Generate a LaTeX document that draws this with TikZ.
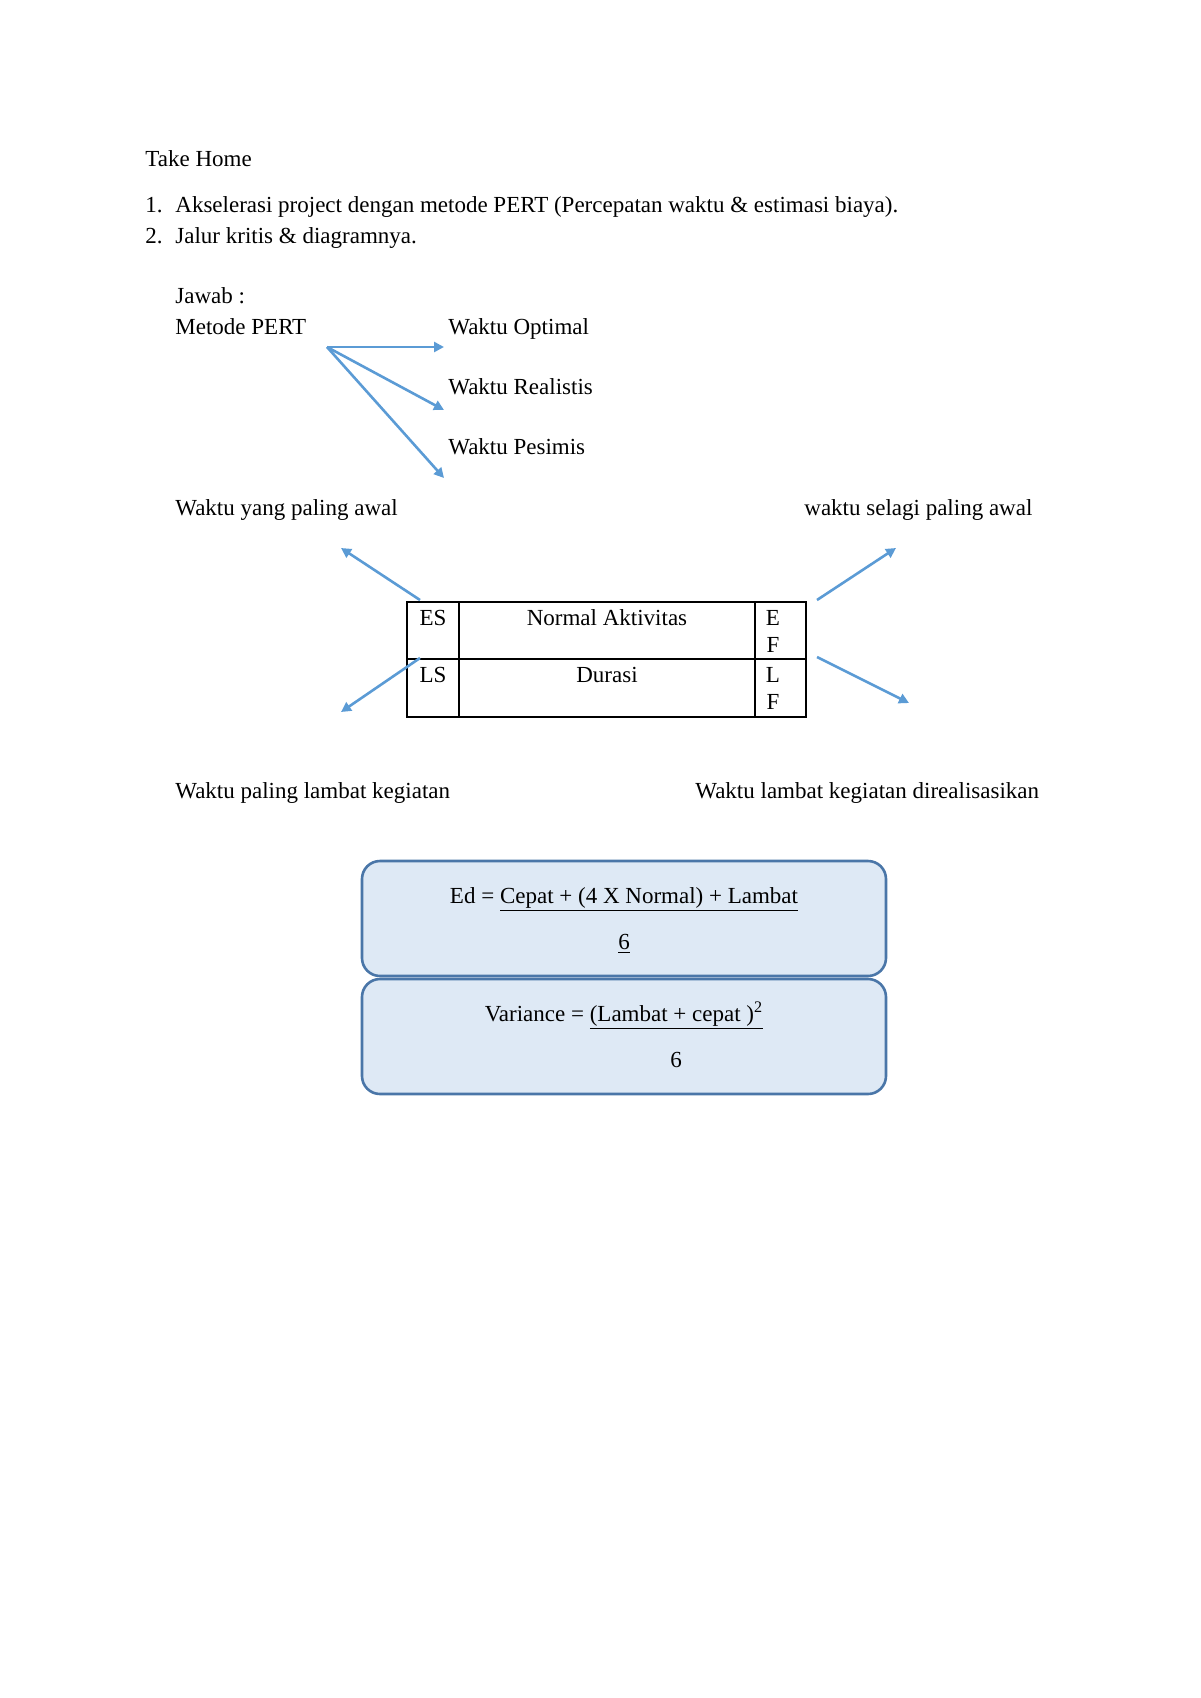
\documentclass[tikz,border=0pt]{standalone}
\usepackage{fontspec}
\setmainfont{Liberation Serif}
\usetikzlibrary{arrows.meta,positioning}

\begin{document}
\begin{tikzpicture}[x=0.5pt,y=-0.5pt,
  txt/.style={anchor=base west, inner sep=0pt, font=\fontsize{11.5}{14}\selectfont},
  ctr/.style={anchor=base, inner sep=0pt, font=\fontsize{11.5}{14}\selectfont},
  arr/.style={-{Triangle[length=5pt,width=5pt]}, draw=blue!50!cyan!60!black!70, color={rgb,255:red,91;green,155;blue,213}, line width=1.3pt},
  cell/.style={draw, line width=1pt},
  formula/.style={draw={rgb,255:red,74;green,118;blue,168}, fill={rgb,255:red,222;green,233;blue,245},
    line width=1.3pt, rounded corners=9pt}
]
\useasboundingbox (0,0) rectangle (1200,1698);

% Header
\node[txt] (title) at (145,166) {Take Home};
\node[txt] (n1) at (145,212) {1.};
\node[txt] (i1) at (175,212) {Akselerasi project dengan metode PERT (Percepatan waktu \& estimasi biaya).};
\node[txt] (n2) at (145,243) {2.};
\node[txt] (i2) at (175,243) {Jalur kritis \& diagramnya.};
\node[txt] (jawab) at (175,303) {Jawab :};
\node[txt] (pert) at (175,334) {Metode PERT};

% PERT estimates
\node[txt] (opt) at (448,334) {Waktu Optimal};
\node[txt] (real) at (448,394) {Waktu Realistis};
\node[txt] (pes) at (448,454) {Waktu Pesimis};
\coordinate (src) at (327,347);
\coordinate (eopt) at (444,347);
\coordinate (ereal) at (444,410);
\coordinate (epes) at (444,478);
\draw[arr] (src) -- (eopt);
\draw[arr] (src) -- (ereal);
\draw[arr] (src) -- (epes);

% Activity box
\node[txt] (es-lbl) at (175,515) {Waktu yang paling awal};
\node[txt] (ef-lbl) at (804,515) {waktu selagi paling awal};
\node[txt] (ls-lbl) at (175,798) {Waktu paling lambat kegiatan};
\node[txt] (lf-lbl) at (695,798) {Waktu lambat kegiatan direalisasikan};

\draw[cell] (407,602) rectangle (806,717);
\draw[cell] (407,659) -- (806,659);
\draw[cell] (459,602) -- (459,717);
\draw[cell] (755,602) -- (755,717);
\node[ctr] (es) at (433,625) {ES};
\node[ctr] (na) at (607,625) {Normal Aktivitas};
\node[ctr] (ef) at (773,625) {E};
\node[ctr] (ef2) at (773,652) {F};
\node[ctr] (ls) at (433,682) {LS};
\node[ctr] (dur) at (607,682) {Durasi};
\node[ctr] (lf) at (773,682) {L};
\node[ctr] (lf2) at (773,709) {F};

\coordinate (a1) at (420,600); \coordinate (b1) at (341,548);
\coordinate (a2) at (420,658); \coordinate (b2) at (341,712);
\coordinate (a3) at (817,600); \coordinate (b3) at (896,548);
\coordinate (a4) at (817,657); \coordinate (b4) at (909,703);
\draw[arr] (a1) -- (b1);
\draw[arr] (a2) -- (b2);
\draw[arr] (a3) -- (b3);
\draw[arr] (a4) -- (b4);

% Formulas
\draw[formula] (362,861) rectangle (886,976);
\draw[formula] (362,979) rectangle (886,1094);
\node[ctr] (ed) at (624,903) {Ed = \underline{Cepat + (4 X Normal) + Lambat}};
\node[ctr] (ed6) at (624,949) {\underline{6}};
\node[ctr] (var) at (624,1021) {Variance = \underline{(Lambat + cepat )\textsuperscript{2}}};
\node[ctr] (var6) at (676,1067) {6};
\end{tikzpicture}
\end{document}
